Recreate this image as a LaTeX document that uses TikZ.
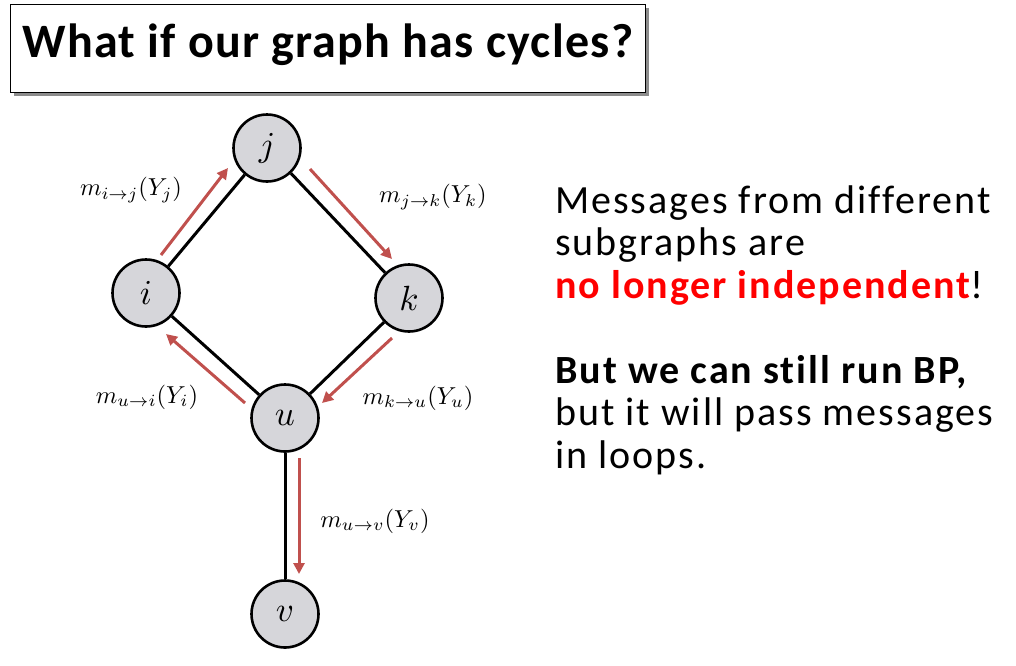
\documentclass[tikz,border=0pt]{standalone}
\usepackage{graphicx}
\usepackage{fontspec}
\setmainfont{Carlito}
\newfontfamily\bodyfont[LetterSpace=5.0,Ligatures=NoCommon]{Carlito}
\newfontfamily\titlefont[LetterSpace=2.7]{Carlito}
\usetikzlibrary{arrows.meta,shadows}
\definecolor{msgred}{RGB}{192,80,77}
\definecolor{nodegray}{RGB}{214,214,218}
\definecolor{hot}{RGB}{255,0,0}
\newcommand{\msglabel}[1]{\scalebox{2.45}{$#1$}}
\newcommand{\vlet}[1]{\scalebox{3.5}{$#1$}}
\begin{document}
\begin{tikzpicture}[x=1pt,y=-1pt,
  vtx/.style={circle,draw=black,line width=2.6pt,fill=nodegray,minimum size=67pt,inner sep=0pt},
  edge/.style={line width=3pt,black},
  msg/.style={line width=3pt,msgred,-{Triangle[length=11pt,width=11pt]}},
  lbl/.style={inner sep=0pt},
  titlebox/.style={draw=black,line width=1pt,fill=white,drop shadow={shadow xshift=3pt,shadow yshift=-3pt,opacity=0.45,fill=black}}]
\useasboundingbox (0,0) rectangle (1016,665);
% title
\node[titlebox,minimum width=635pt,minimum height=88pt,anchor=north west] (title) at (10,4) {};
\node[font=\fontsize{48}{54}\selectfont\titlefont\bfseries] (ttext) at (328,45) {What if our graph has cycles?};
% nodes
\node[vtx] (j) at (267,148) {\vlet{j}};
\node[vtx] (i) at (146,293) {\vlet{i}};
\node[vtx] (k) at (409,298) {\vlet{k}};
\node[vtx] (u) at (285,418) {\vlet{u}};
\node[vtx] (v) at (285,614) {\vlet{v}};
% edges
\draw[edge] (i) -- (j);
\draw[edge] (j) -- (k);
\draw[edge] (k) -- (u);
\draw[edge] (u) -- (i);
\draw[edge] (u) -- (v);
% message arrows
\coordinate (a1) at (161,255); \coordinate (b1) at (228,168);
\coordinate (a2) at (310,169); \coordinate (b2) at (392,259);
\coordinate (a3) at (392,338); \coordinate (b3) at (322,403);
\coordinate (a4) at (245,403); \coordinate (b4) at (166,334);
\coordinate (a5) at (299,458); \coordinate (b5) at (299,574);
\draw[msg] (a1) -- (b1);
\draw[msg] (a2) -- (b2);
\draw[msg] (a3) -- (b3);
\draw[msg] (a4) -- (b4);
\draw[msg] (a5) -- (b5);
% labels
\node[lbl] (l1) at (131,190) {\msglabel{m_{i\to j}(Y_j)}};
\node[lbl] (l2) at (433,197) {\msglabel{m_{j\to k}(Y_k)}};
\node[lbl] (l3) at (147,397) {\msglabel{m_{u\to i}(Y_i)}};
\node[lbl] (l4) at (418,398) {\msglabel{m_{k\to u}(Y_u)}};
\node[lbl] (l5) at (375,521) {\msglabel{m_{u\to v}(Y_v)}};
% right text
\node[anchor=base west,align=left,inner sep=0pt,font=\fontsize{40}{42.5}\selectfont\bodyfont] (txt) at (555,468)
{Messages from different\\
subgraphs are\\
\textcolor{hot}{\bfseries no longer independent}!\\[42.5pt]
\bfseries But we can still run BP,\\
but it will pass messages\\
in loops.};
\end{tikzpicture}
\end{document}
